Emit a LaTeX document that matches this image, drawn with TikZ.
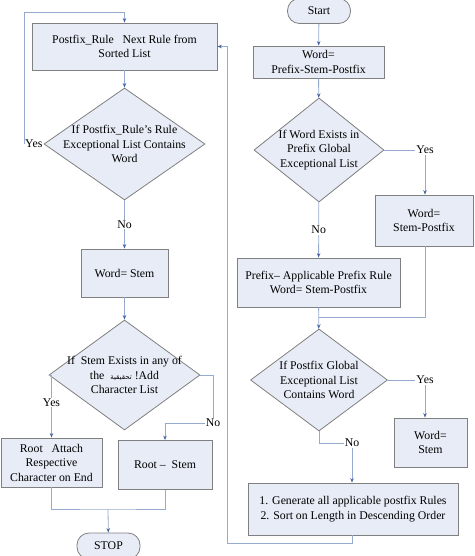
\documentclass[tikz,border=0pt]{standalone}
\usepackage{fontspec}
\setmainfont{Liberation Serif}
\newfontfamily\arabicfont[Script=Arabic]{DejaVu Sans}
\TeXXeTstate=1
\usepackage{xcolor}
\usepackage{tikz}
\usetikzlibrary{shapes.geometric,arrows.meta}

\definecolor{flowline}{RGB}{150,170,205}
\definecolor{tipblue}{RGB}{70,100,165}
\definecolor{boxedge}{RGB}{128,128,128}
\definecolor{boxfill}{RGB}{231,236,246}

\begin{document}
\begin{tikzpicture}[x=1pt,y=-1pt,
	font=\fontsize{11.8}{14.5}\selectfont,
	flow/.style={draw=flowline,line width=0.8pt},
	arr/.style={flow,-{Stealth[length=4.5pt,width=3.5pt,color=tipblue]}},
	stepbox/.style={draw=boxedge,fill=boxfill,line width=0.8pt,align=center,inner sep=0pt},
	pill/.style={stepbox,rounded corners=12pt},
	decide/.style={diamond,draw=boxedge,fill=boxfill,line width=0.8pt,inner sep=0pt},
	lbl/.style={fill=white,inner sep=1pt}]
	\useasboundingbox (0,0) rectangle (474,556);
	
	% right column
	\node[pill,minimum width=63pt,minimum height=25pt] (start) at (319,11) {Start};
	\node[stepbox,minimum width=131pt,minimum height=32pt] (word) at (318.5,62) {Word=\\Prefix-Stem-Postfix};
	\node[decide,minimum width=130pt,minimum height=104pt] (pfxdec) at (319,150) {};
	\node[align=center] (pfxtxt) at (pfxdec) {If Word Exists in\\Prefix Global\\Exceptional List};
	\node[stepbox,minimum width=98pt,minimum height=51pt] (wsp) at (424,220.5) {Word=\\Stem-Postfix};
	\node[stepbox,minimum width=163pt,minimum height=49pt] (pfxrule) at (318.5,282.5) {Prefix-- Applicable Prefix Rule\\Word= Stem-Postfix};
	\node[decide,minimum width=137pt,minimum height=102pt] (sfxdec) at (319,380) {};
	\node[align=center] (sfxtxt) at (sfxdec) {If Postfix Global\\Exceptional List\\Contains Word};
	\node[stepbox,minimum width=73pt,minimum height=49pt] (wstem) at (430.5,442.5) {Word=\\Stem};
	\node[stepbox,minimum width=210pt,minimum height=52pt] (gen) at (353,509) {1. Generate all applicable postfix Rules\\2. Sort on Length in Descending Order};
	
	% left column
	\node[stepbox,minimum width=185pt,minimum height=47pt] (rule) at (124.5,46.5) {Postfix\_Rule\enspace\ Next Rule from\\Sorted List};
	\node[decide,minimum width=161pt,minimum height=112pt] (excdec) at (124.5,144) {};
	\node[align=center] (exctxt) at (excdec) {If Postfix\_Rule's Rule\\Exceptional List Contains\\Word};
	\node[stepbox,minimum width=87pt,minimum height=48pt] (stem) at (124.5,273) {Word= Stem};
	\node[decide,minimum width=151pt,minimum height=110pt] (adddec) at (124.5,375) {};
	\node[align=center] (addtxt) at (adddec) {If\enspace Stem Exists in any of\\the\enspace {\arabicfont\fontsize{7}{8}\selectfont\beginR تحقيقية\endR} !Add\\Character List};
	\node[stepbox,minimum width=101pt,minimum height=49pt] (attach) at (51.5,462.5) {Root\enspace\ Attach\\Respective\\Character on End};
	\node[stepbox,minimum width=94pt,minimum height=49pt] (rstem) at (165,465) {Root -- \ Stem};
	\node[pill,minimum width=63pt,minimum height=26pt] (stop) at (108.5,546) {STOP};
	
	% helper points
	\coordinate (yesA) at (425,150);
	\coordinate (joinA) at (319,317);
	\coordinate (yesB) at (425,380);
	\coordinate (noB) at (352,443);
	\coordinate (loop) at (227,543);
	\coordinate (back) at (22,12);
	\coordinate (noC) at (213,423);
	\coordinate (joinB) at (108,509);
	
	% right connectors
	\draw[arr] (start) -- (word);
	\draw[arr] (word) -- (pfxdec);
	\draw[flow] (pfxdec.east) -- (yesA);
	\draw[arr] (yesA) -- (wsp.north -| yesA);
	\draw[arr] (pfxdec) -- node[lbl] (noA) {No} (pfxrule);
	\draw[flow] (wsp.south -| yesA) |- (joinA);
	\draw[arr] (pfxrule) -- (sfxdec);
	\draw[flow] (sfxdec.east) -- (yesB);
	\draw[arr] (yesB) -- (wstem.north -| yesB);
	\draw[flow] (sfxdec.south) |- (noB);
	\draw[arr] (noB) -- (gen.north -| noB);
	\draw[arr] (gen.south -| noB) |- (loop) |- (rule.east);
	\node[lbl] (yesAtxt) at (yesA) {Yes};
	\node[lbl] (yesBtxt) at (yesB) {Yes};
	\node[lbl] (noBtxt) at (noB) {No};
	
	% left connectors
	\node[inner sep=1pt,anchor=east] (yesC) at (excdec.west) {Yes};
	\draw[arr] (yesC.west) -- (yesC.west |- back) -| (rule.north);
	\draw[arr] (rule) -- (excdec);
	\draw[arr] (excdec) -- node[lbl] (noCtxt) {No} (stem);
	\draw[arr] (stem) -- (adddec);
	\draw[arr] (adddec.west) -| node[lbl,pos=0.72] (yesD) {Yes} (attach.north);
	\draw[flow] (adddec.east) -| (noC);
	\draw[arr] (noC) -| (rstem.north);
	\node[lbl] (noD) at (noC) {No};
	\draw[flow] (attach.south) |- (joinB) -| (rstem.south);
	\draw[arr] (joinB) -- (stop);
\end{tikzpicture}
\end{document}
